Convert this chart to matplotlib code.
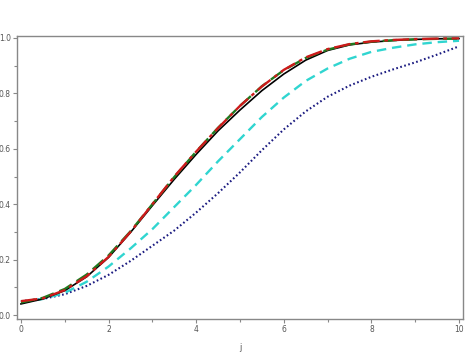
import matplotlib
matplotlib.use("Agg")
import matplotlib.pyplot as plt
from matplotlib.ticker import MultipleLocator, FormatStrFormatter

j = [0, 0.5, 1, 1.5, 2, 2.5, 3, 3.5, 4, 4.5, 5, 5.5, 6, 6.5, 7, 7.5, 8, 8.5, 9, 9.5, 10]
black = [0.040, 0.058, 0.088, 0.138, 0.208, 0.298, 0.395, 0.490, 0.580, 0.665, 0.740, 0.810,
         0.870, 0.920, 0.955, 0.975, 0.985, 0.991, 0.995, 0.997, 0.998]
green = [0.045, 0.062, 0.094, 0.146, 0.215, 0.302, 0.400, 0.498, 0.590, 0.676, 0.755, 0.826,
         0.884, 0.928, 0.958, 0.977, 0.987, 0.992, 0.995, 0.997, 0.998]
red = [0.050, 0.060, 0.090, 0.140, 0.210, 0.300, 0.400, 0.500, 0.590, 0.675, 0.755, 0.825,
       0.885, 0.930, 0.960, 0.978, 0.988, 0.993, 0.996, 0.998, 0.999]
cyan = [0.045, 0.058, 0.080, 0.120, 0.175, 0.240, 0.310, 0.390, 0.470, 0.555, 0.635, 0.715,
        0.785, 0.845, 0.890, 0.925, 0.950, 0.965, 0.977, 0.985, 0.990]
navy = [0.050, 0.058, 0.075, 0.105, 0.145, 0.195, 0.250, 0.305, 0.370, 0.440, 0.515, 0.595,
        0.670, 0.735, 0.788, 0.828, 0.860, 0.887, 0.912, 0.940, 0.970]

fig = plt.figure(figsize=(4.74, 3.61), dpi=100)
ax = fig.add_axes([17 / 474, 1 - 319 / 361, 446 / 474, 283 / 361])

ax.plot(j, navy, color="#1a1a80", lw=1.5, ls=(0, (0.8, 1.2)))
ax.plot(j, cyan, color="#30d5d0", lw=1.7, ls=(0, (4, 2.5)))
ax.plot(j, black, color="black", lw=1.2)
ax.plot(j, green, color="#1f7a1f", lw=1.7, ls=(0, (6, 2.5)))
ax.plot(j, red, color="#cc1a1a", lw=1.7, ls=(0, (7, 2, 1.5, 2)))

ax.set_xlim(-0.09, 10.09)
ax.set_ylim(-0.0144, 1.0072)
ax.xaxis.set_major_locator(MultipleLocator(2))
ax.xaxis.set_minor_locator(MultipleLocator(1))
ax.yaxis.set_major_locator(MultipleLocator(0.2))
ax.yaxis.set_minor_locator(MultipleLocator(0.1))
ax.yaxis.set_major_formatter(FormatStrFormatter("%.1f"))

for s in ax.spines.values():
    s.set_color("#888888")
    s.set_linewidth(1.0)
ax.tick_params(which="both", direction="out", colors="#888888", labelcolor="#555555",
               labelsize=5.5, width=0.8)
ax.tick_params(which="major", length=3, pad=1.5)
ax.tick_params(which="minor", length=2)
ax.set_xlabel("j", fontsize=6, color="#555555", labelpad=6)

fig.savefig("out.png", dpi=100, facecolor="white")
